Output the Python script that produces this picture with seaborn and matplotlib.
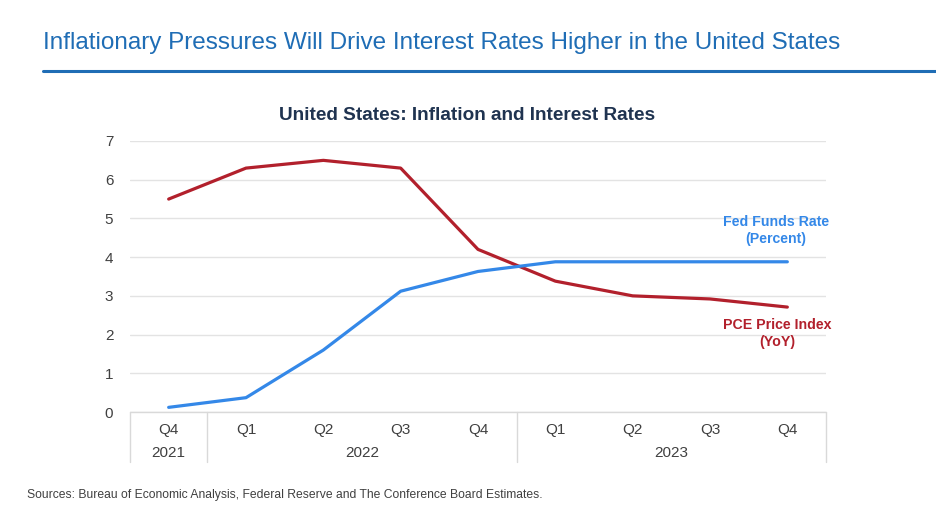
import matplotlib
matplotlib.use("Agg")
import matplotlib.pyplot as plt
import seaborn as sns
import pandas as pd
import numpy as np
from matplotlib.lines import Line2D

quarters = ["Q4", "Q1", "Q2", "Q3", "Q4", "Q1", "Q2", "Q3", "Q4"]
years = ["2021", "2022", "2023"]
year_spans = [(0, 0), (1, 4), (5, 8)]
pce = [5.5, 6.3, 6.5, 6.3, 4.2, 3.38, 3.0, 2.92, 2.71]
fed_funds = [0.12, 0.37, 1.6, 3.12, 3.63, 3.88, 3.88, 3.88, 3.88]

sns.set_theme(style="white")
narrow = ["Liberation Sans Narrow", "Liberation Sans", "DejaVu Sans"]
plt.rcParams["font.family"] = ["Liberation Sans", "DejaVu Sans"]

W, H = 936, 509
fig = plt.figure(figsize=(W / 100, H / 100), dpi=100)
ax = fig.add_axes([130 / W, 1 - 412 / H, (826 - 130) / W, (412 - 141) / H])

idx = np.arange(len(quarters))
df = pd.DataFrame({"idx": np.concatenate([idx, idx]),
                   "value": pce + fed_funds,
                   "series": ["PCE"] * len(idx) + ["Fed"] * len(idx)})
red = "#B2202C"
blue = "#3488E8"
sns.lineplot(data=df, x="idx", y="value", hue="series",
             palette={"PCE": red, "Fed": blue}, linewidth=2.3, ax=ax, legend=False)

ax.set_xlim(-0.5, 8.5)
ax.set_ylim(0, 7)
ax.set_yticks(range(0, 8))
ax.set_xticks([])
ax.set_xlabel("")
ax.set_ylabel("")
for s in ax.spines.values():
    s.set_visible(False)
ax.grid(axis="y", color="#E3E3E3", linewidth=1)
ax.tick_params(axis="y", length=0, pad=12, labelsize=11, labelcolor="#404040")

# category box
gray = "#D9D9D9"
trans = ax.get_xaxis_transform()
ax.add_line(Line2D([-0.5, 8.5], [0, 0], transform=trans, color=gray, lw=1, clip_on=False))
box_bottom = -(462 - 412) / (412 - 141)
for xb in [-0.5, 0.5, 4.5, 8.5]:
    ax.add_line(Line2D([xb, xb], [0, box_bottom], transform=trans, color=gray, lw=1, clip_on=False))
q_y = -(430 - 412) / (412 - 141)
y_y = -(453 - 412) / (412 - 141)
for i, q in enumerate(quarters):
    ax.text(i, q_y, q, transform=trans, ha="center", va="center", fontsize=11,
            color="#404040", family=narrow)
for yr, (a, b) in zip(years, year_spans):
    ax.text((a + b) / 2, y_y, yr, transform=trans, ha="center", va="center", fontsize=11,
            color="#404040", family=narrow)

# annotations
ax.text(7.85, 4.69, "Fed Funds Rate\n(Percent)", ha="center", va="center", fontsize=10.2,
        fontweight="bold", color=blue, linespacing=1.25)
ax.text(7.87, 2.03, "PCE Price Index\n(YoY)", ha="center", va="center", fontsize=10.2,
        fontweight="bold", color=red, linespacing=1.25)

# chart title
fig.text(467 / W, 1 - 115 / H, "United States: Inflation and Interest Rates", ha="center",
         va="center", fontsize=13.7, fontweight="bold", color="#1F3350")

# page title and rule
fig.text(43 / W, 1 - 43 / H, "Inflationary Pressures Will Drive Interest Rates Higher in the United States",
         ha="left", va="center", fontsize=17.5, color="#1F6DB5", family=narrow)
fig.add_artist(Line2D([43 / W, 1.0], [1 - 71 / H, 1 - 71 / H], transform=fig.transFigure,
                      color="#1F6DB5", lw=2.2))

# source
fig.text(27 / W, 1 - 495 / H,
         "Sources: Bureau of Economic Analysis, Federal Reserve and The Conference Board Estimates.",
         ha="left", va="center", fontsize=8.75, color="#404040", family=narrow)

fig.savefig("out.png", dpi=100, facecolor="white")
